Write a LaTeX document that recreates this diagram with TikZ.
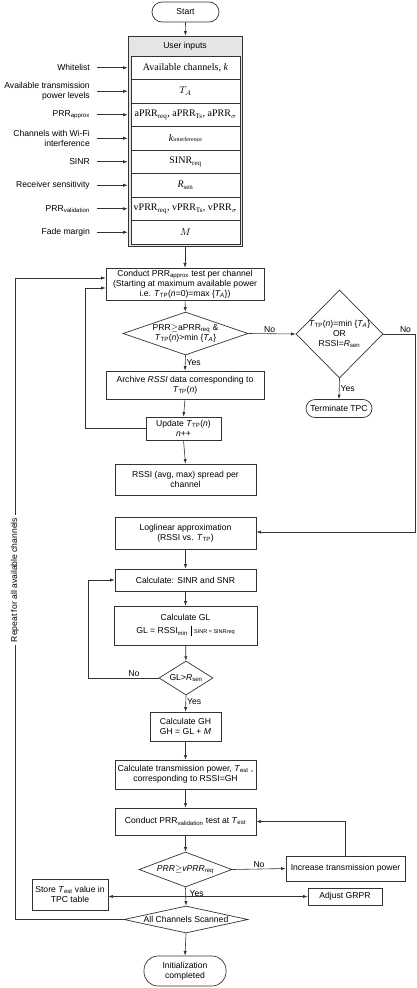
\documentclass[tikz,border=0pt]{standalone}
\usepackage{fontspec}
\setmainfont{Liberation Sans}
\newfontfamily\serf{Liberation Serif}
\usetikzlibrary{shapes.geometric,arrows.meta}
\newcommand{\Ttp}{\textit{T}\textsubscript{TP}}
\newcommand{\fsz}{\fontsize{8.6}{10}\selectfont}
\newcommand{\rsz}{\fontsize{10}{12}\selectfont}
\colorlet{ln}{black!80}
\begin{document}
\begin{tikzpicture}[x=1pt,y=-1pt,
  line/.style={draw=ln, line width=0.6pt},
  arr/.style={line, -{Latex[length=4.5pt,width=3.2pt]}},
  box/.style={rectangle, draw=ln, line width=0.7pt, align=center, inner sep=1pt, font=\fsz},
  term/.style={box, rounded corners=9pt},
  dec/.style={diamond, draw=ln, line width=0.7pt, inner sep=0pt},
  dtxt/.style={align=center, inner sep=0pt, font=\fsz},
  row/.style={rectangle, draw=ln, line width=0.6pt, fill=white, minimum width=109pt, minimum height=23.5pt, inner sep=0pt, font=\serf\rsz},
  lbl/.style={font=\fsz, align=right, anchor=east, inner sep=0pt},
  yn/.style={font=\fsz, inner sep=1pt}
]
\useasboundingbox (0,0) rectangle (416,988);
% Start
\node[term, minimum width=67pt, minimum height=20pt, rounded corners=10pt] (start) at (185.5,12) {Start};
% User inputs block
\node[rectangle, draw=ln, line width=0.7pt, fill=black!10, minimum width=114pt, minimum height=210pt, inner sep=0pt] (inputs) at (185,141) {};
\node[font=\fsz] (uihead) at (185,46.5) {User inputs};
\node[row] (r1) at (185.5,67.75) {Available channels, \textit{k}};
\node[row] (r2) at (185.5,91.25) {$T_A$};
\node[row] (r3) at (185.5,114.75) {aPRR\textsubscript{req}, aPRR\textsubscript{Ts}, aPRR$_\sigma$};
\node[row] (r4) at (185.5,138.25) {\textit{k}{\fontsize{6}{7}\selectfont interference}};
\node[row] (r5) at (185.5,161.75) {SINR\textsubscript{req}};
\node[row] (r6) at (185.5,185.25) {\textit{R}\textsubscript{sen}};
\node[row] (r7) at (185.5,208.75) {vPRR\textsubscript{req}, vPRR\textsubscript{Ts}, vPRR$_\sigma$};
\node[row] (r8) at (185.5,232.25) {$M$};
% left labels
\node[lbl] (l1) at (90,67.75) {Whitelist};
\node[lbl] (l2) at (90,91.25) {Available transmission\\power levels};
\node[lbl] (l3) at (90,114.75) {PRR\textsubscript{approx}};
\node[lbl] (l4) at (90,138.25) {Channels with Wi-Fi\\interference};
\node[lbl] (l5) at (90,161.75) {SINR};
\node[lbl] (l6) at (90,185.25) {Receiver sensitivity};
\node[lbl] (l7) at (90,208.75) {PRR\textsubscript{validation}};
\node[lbl] (l8) at (90,232.25) {Fade margin};
\foreach \i in {1,...,8}{
  \draw[arr] ([xshift=7pt]l\i.east -| l1.east) -- (l\i.east -| inputs.west);
}
% main flow
\node[box, minimum width=158pt, minimum height=32pt] (conduct) at (185,284)
  {Conduct PRR\textsubscript{approx} test per channel\\(Starting at maximum available power\\i.e. \Ttp(\textit{n}=0)=max \{\textit{T\textsubscript{A}}\})};
\node[dec, minimum width=125pt, minimum height=43pt] (d1) at (185.5,333.5) {};
\node[dtxt] (d1t) at (d1) {PRR$\geq$aPRR\textsubscript{req} \&\\\Ttp(\textit{n})>min \{\textit{T\textsubscript{A}}\}};
\node[dec, minimum width=87pt, minimum height=88pt] (d2) at (339.5,334) {};
\node[dtxt] (d2t) at (d2) {\Ttp(\textit{n})=min \{\textit{T\textsubscript{A}}\}\\OR\\RSSI=\textit{R}\textsubscript{sen}};
\node[term, minimum width=66pt, minimum height=18pt] (termtpc) at (339,408.5) {Terminate TPC};
\node[box, minimum width=158pt, minimum height=28pt] (archive) at (185,385)
  {Archive \textit{RSSI} data corresponding to\\\Ttp(\textit{n})};
\node[box, minimum width=75pt, minimum height=23pt] (update) at (183.5,428.5)
  {Update \Ttp(\textit{n})\\\textit{n}++};
\node[box, minimum width=141pt, minimum height=31pt] (rssi) at (185.5,479.5)
  {RSSI (avg, max) spread per\\channel};
\node[box, minimum width=141pt, minimum height=32pt] (loglin) at (185.5,533)
  {Loglinear approximation\\(RSSI vs. \Ttp)};
\node[box, minimum width=141pt, minimum height=22pt] (sinr) at (185.5,580)
  {Calculate: SINR and SNR};
\node[box, minimum width=143pt, minimum height=39pt] (gl) at (185.5,625.5)
  {Calculate GL\\[3pt]GL = RSSI\textsubscript{min}\,\,\rule[-2.5pt]{0.5pt}{10pt}\,\,{\fontsize{5.5}{6}\selectfont SINR = SINRreq}};
\node[dec, minimum width=54pt, minimum height=34pt] (d3) at (186,678) {};
\node[dtxt] (d3t) at (d3) {GL>\textit{R}\textsubscript{sen}};
\node[box, minimum width=71pt, minimum height=29pt] (gh) at (185.5,726.5)
  {Calculate GH\\GH = GL + \textit{M}};
\node[box, minimum width=141pt, minimum height=29pt] (tx) at (185.5,774.5)
  {Calculate transmission power, \textit{T}\textsubscript{est} ,\\corresponding to RSSI=GH};
\node[box, minimum width=141pt, minimum height=27pt] (val) at (185.5,821.5)
  {Conduct PRR\textsubscript{validation} test at \textit{T}\textsubscript{est}};
\node[dec, minimum width=93pt, minimum height=35pt] (d4) at (185.5,869.5) {};
\node[dtxt] (d4t) at (d4) {\textit{PRR$\geq$vPRR}\textsubscript{\textit{req}}};
\node[box, minimum width=119pt, minimum height=25pt] (inc) at (345.5,868.5)
  {Increase transmission power};
\node[box, minimum width=76pt, minimum height=31pt] (store) at (70,894.5)
  {Store \textit{T}\textsubscript{est} value in\\TPC table};
\node[box, minimum width=74pt, minimum height=17pt] (adjust) at (345,896.5)
  {Adjust GRPR};
\node[dec, minimum width=124pt, minimum height=27pt] (d5) at (186,919.5) {};
\node[dtxt] (d5t) at (d5) {All Channels Scanned};
\node[term, minimum width=82pt, minimum height=30pt, rounded corners=14pt] (init) at (185,971)
  {Initialization\\completed};
% coordinates
\coordinate (jn) at (d4.south |- adjust.west);
% connectors
\draw[arr] (start) -- (inputs);
\draw[arr] (inputs) -- (conduct);
\draw[arr] (conduct) -- (d1);
\draw[arr] (d1.east) -- node[yn, above, pos=0.45] {No} (d2.west);
\draw[arr] (d2.south) -- node[yn, right, pos=0.5] {Yes} (termtpc.north);
\draw[arr] (d2.east) -- node[yn, above, pos=0.7] {No} (415,334) -- (415,532) -- (loglin.east |- 0,532);
\draw[arr] (d1.south) -- node[yn, right, pos=0.45] {Yes} (archive.north);
\draw[arr] (archive.south) -- (update.north);
\draw[arr] (update.west) -- (85,428.5) -- (85,288) -- (conduct.west |- 0,288);
\draw[arr] (update.south) -- (rssi.north);
\draw[arr] (loglin) -- (sinr);
\draw[arr] (sinr) -- (gl);
\draw[arr] (gl) -- (d3);
\draw[arr] (d3.west) -- node[yn, above, pos=0.35] {No} (88,678) -- (88,580) -- (sinr.west);
\draw[arr] (d3.south) -- node[yn, right, pos=0.4] {Yes} (gh.north);
\draw[arr] (gh) -- (tx);
\draw[arr] (tx) -- (val);
\draw[arr] (val) -- (d4);
\draw[arr] (d4.east) -- node[yn, above, pos=0.5] {No} (inc.west);
\draw[arr] (inc.north) -- (inc.north |- val.east) -- (val.east);
\draw[arr] (d4.south) -- (d5.north);
\draw[arr] (jn) -- (store.east |- jn);
\draw[arr] (jn) -- (adjust.west);
\node[yn, above right] at ([xshift=3pt,yshift=-1pt]jn) {Yes};
\draw[arr] (d5.south) -- (init.north);
\draw[arr] (d5.west) -- (15,919.5) -- (15,278) -- (conduct.west |- 0,278);
\node[font=\fsz, rotate=90, fill=white, inner sep=3pt] (rep) at (15,580) {Repeat for all available channels};
\end{tikzpicture}
\end{document}
